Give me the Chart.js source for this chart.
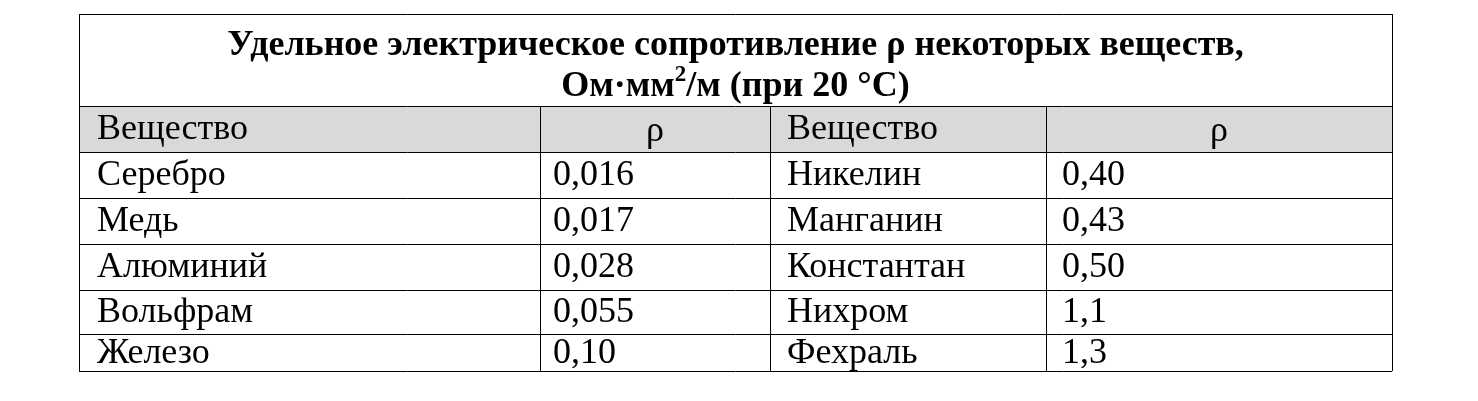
<!DOCTYPE html>
<html><head><meta charset="utf-8">
<script src="https://cdn.jsdelivr.net/npm/chart.js@4"></script>
<style>html,body{margin:0;padding:0;background:#fff}#c{display:block}</style>
</head><body>
<div style="width:1478px;height:401px"><canvas id="c"></canvas></div>
<script>
const titleLine1 = "Удельное электрическое сопротивление ρ некоторых веществ,";
const titleLine2 = ["Ом·мм", "2", "/м (при 20 °C)"];
const headers = ["Вещество", "ρ", "Вещество", "ρ"];
const substancesLeft = ["Серебро", "Медь", "Алюминий", "Вольфрам", "Железо"];
const valuesLeft = ["0,016", "0,017", "0,028", "0,055", "0,10"];
const substancesRight = ["Никелин", "Манганин", "Константан", "Нихром", "Фехраль"];
const valuesRight = ["0,40", "0,43", "0,50", "1,1", "1,3"];

const colEdges = [0, 461, 691, 967, 1313];
const rowEdges = [0, 92, 138, 184, 230, 276, 320, 357];

const tablePlugin = {
  id: 'table',
  afterDraw(chart) {
    const ctx = chart.ctx, xs = chart.scales.x, ys = chart.scales.y;
    const X = v => xs.getPixelForValue(v), Y = v => ys.getPixelForValue(v);
    ctx.save();
    ctx.fillStyle = '#d9d9d9';
    ctx.fillRect(X(0), Y(rowEdges[1]), X(1313) - X(0), Y(rowEdges[2]) - Y(rowEdges[1]));
    ctx.strokeStyle = '#000'; ctx.lineWidth = 1;
    ctx.beginPath();
    rowEdges.forEach(r => { const y = Math.round(Y(r)) + 0.5; ctx.moveTo(X(0), y); ctx.lineTo(X(1313), y); });
    colEdges.forEach((c, i) => {
      const x = Math.round(X(c)) + 0.5;
      const top = (i === 0 || i === colEdges.length - 1) ? rowEdges[0] : rowEdges[1];
      ctx.moveTo(x, Y(top)); ctx.lineTo(x, Y(rowEdges[rowEdges.length - 1]));
    });
    ctx.stroke();
    ctx.fillStyle = '#000';
    ctx.textBaseline = 'middle';
    const f1 = 'bold 36px "Liberation Serif"', f2 = 'bold 23px "Liberation Serif"';
    ctx.font = f1;
    ctx.textAlign = 'center';
    const cx = (X(0) + X(1313)) / 2;
    ctx.fillText(titleLine1, cx, Y(32));
    ctx.font = f1; const w1 = ctx.measureText(titleLine2[0]).width, w3 = ctx.measureText(titleLine2[2]).width;
    ctx.font = f2; const w2 = ctx.measureText(titleLine2[1]).width;
    let x0 = cx - (w1 + w2 + w3) / 2;
    ctx.textAlign = 'left';
    ctx.font = f1; ctx.fillText(titleLine2[0], x0, Y(73));
    ctx.font = f2; ctx.fillText(titleLine2[1], x0 + w1, Y(61));
    ctx.font = f1; ctx.fillText(titleLine2[2], x0 + w1 + w2, Y(73));
    ctx.font = '36px "Liberation Serif"';
    const hy = (Y(rowEdges[1]) + Y(rowEdges[2])) / 2 + 1;
    ctx.textAlign = 'left';
    ctx.fillText(headers[0], X(0) + 18, hy);
    ctx.fillText(headers[2], X(691) + 17, hy);
    ctx.textAlign = 'center';
    ctx.fillText(headers[1], (X(461) + X(691)) / 2, hy + 2);
    ctx.fillText(headers[3], (X(967) + X(1313)) / 2, hy + 2);
    ctx.textAlign = 'left';
    for (let i = 0; i < substancesLeft.length; i++) {
      const y = (Y(rowEdges[i + 2]) + Y(rowEdges[i + 3])) / 2 + 1;
      ctx.fillText(substancesLeft[i], X(0) + 18, y);
      ctx.fillText(valuesLeft[i], X(461) + 13, y);
      ctx.fillText(substancesRight[i], X(691) + 17, y);
      ctx.fillText(valuesRight[i], X(967) + 16, y);
    }
    ctx.restore();
  }
};

new Chart(document.getElementById('c'), {
  type: 'scatter',
  data: { datasets: [{ data: [] }] },
  options: {
    responsive: true, maintainAspectRatio: false, animation: false,
    layout: { padding: { left: 79, right: 86, top: 14, bottom: 30 } },
    plugins: { legend: { display: false }, tooltip: { enabled: false } },
    scales: {
      x: { type: 'linear', min: 0, max: 1313, display: false },
      y: { type: 'linear', min: 0, max: 357, reverse: true, display: false }
    }
  },
  plugins: [tablePlugin]
});
</script>
</body></html>
